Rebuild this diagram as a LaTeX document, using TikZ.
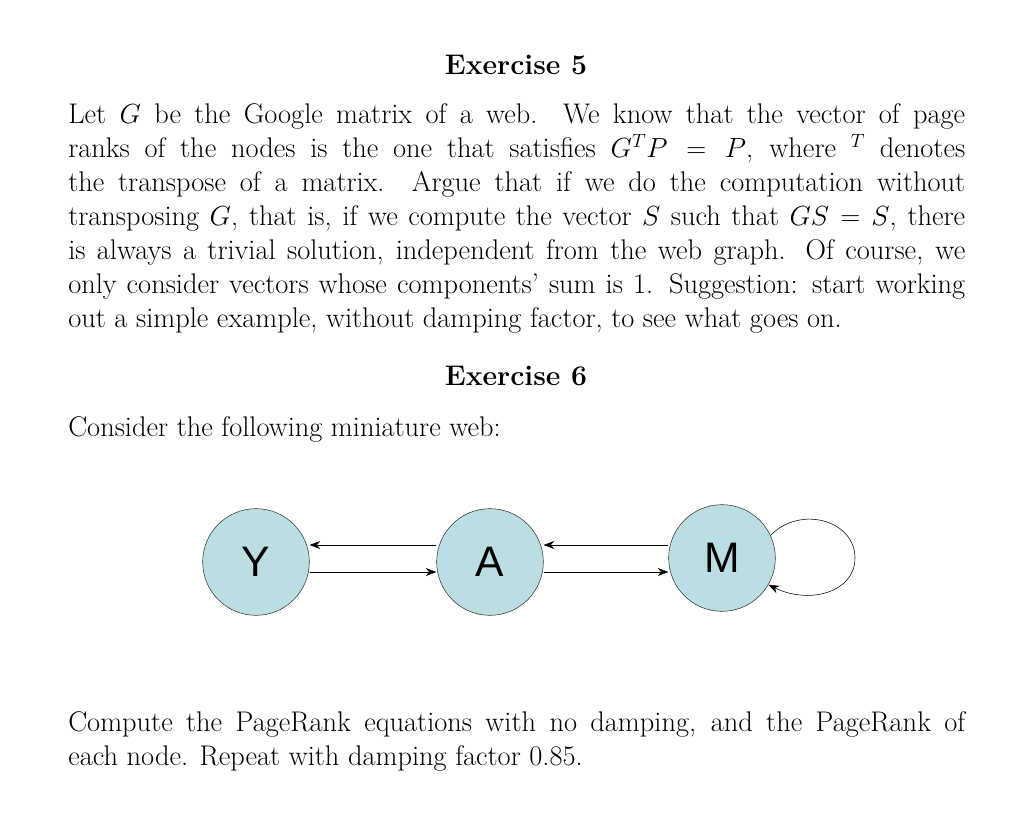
\documentclass[tikz,border=0pt]{standalone}
\usepackage{fontspec}
\newfontfamily\arialf{Liberation Sans}
\usetikzlibrary{arrows.meta,shapes.geometric}
\definecolor{nodefill}{RGB}{186,222,226}
\tikzset{
  para/.style={anchor=base west,inner sep=0pt,text width=672.75pt,align=justify,font=\fontsize{21.3}{25.5}\selectfont},
  title/.style={anchor=base,inner sep=0pt,font=\fontsize{21.3}{25.5}\selectfont\bfseries},
  web/.style={ellipse,draw=black!80,fill=nodefill,minimum width=80pt,minimum height=80pt,inner sep=0pt,font=\arialf\fontsize{32}{36}\selectfont},
  link/.style={-{Stealth[length=8pt,width=6pt]},thin}
}
\begin{document}
\begin{tikzpicture}[x=0.75pt,y=-0.75pt]
\useasboundingbox (0,0) rectangle (1024,816);
\node[title] (t5) at (516,75) {Exercise 5};
\node[para] (p1) at (68,124) {Let $G$ be the Google matrix of a web. We know that the vector of page\linebreak
ranks of the nodes is the one that satisfies $G^TP = P$, where ${}^T$ denotes\linebreak
the transpose of a matrix. Argue that if we do the computation without\linebreak
transposing $G$, that is, if we compute the vector $S$ such that $GS=S$, there\linebreak
is always a trivial solution, independent from the web graph. Of course, we\linebreak
only consider vectors whose components' sum is 1. Suggestion: start working\linebreak
out a simple example, without damping factor, to see what goes on.};
\node[title] (t6) at (516,386) {Exercise 6};
\node[para] (p2) at (68,436) {Consider the following miniature web:};
\node[web] (Y) at (256,562) {Y};
\node[web] (A) at (490,562) {A};
\node[web] (M) at (722,558) {M};
\draw[link] (A.west |- 0,545) -- (Y.east |- 0,545);
\draw[link] (Y.east |- 0,572) -- (A.west |- 0,572);
\draw[link] (M.west |- 0,545) -- (A.east |- 0,545);
\draw[link] (A.east |- 0,572) -- (M.west |- 0,572);
\draw[link] (M.25) .. controls (800,505) and (855,520) .. (855,558) .. controls (855,592) and (810,605) .. (M.-30);
\node[para] (p3) at (68,731) {Compute the PageRank equations with no damping, and the PageRank of\linebreak
each node. Repeat with damping factor 0.85.};
\end{tikzpicture}
\end{document}
